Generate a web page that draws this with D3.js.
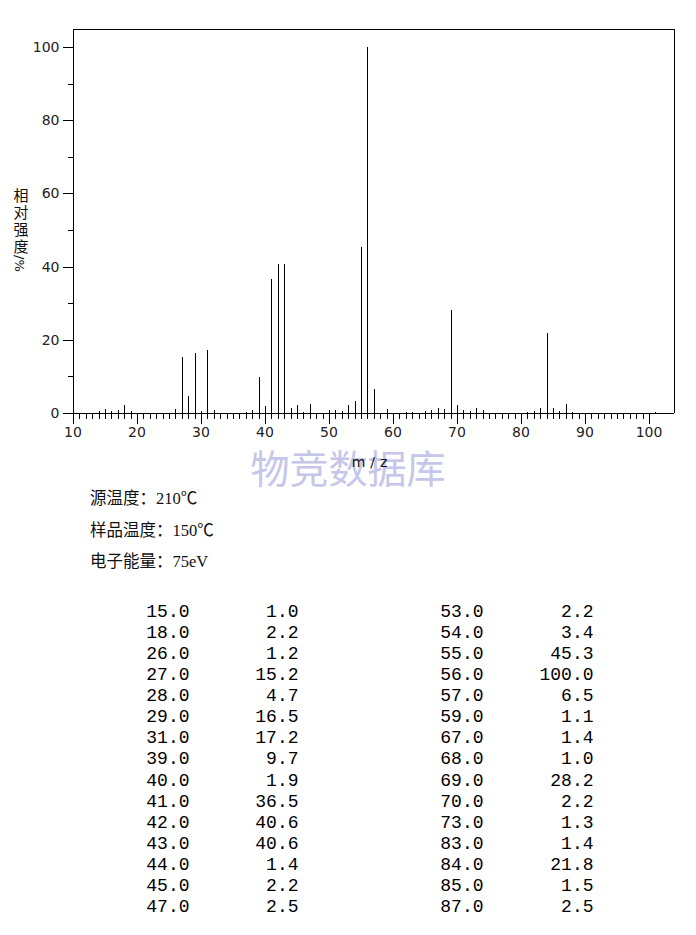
<!DOCTYPE html>
<html>
<head>
<meta charset="utf-8">
<script src="https://cdn.jsdelivr.net/npm/d3@7/dist/d3.min.js"></script>
<style>
  html, body { margin: 0; padding: 0; background: #fff; }
  svg { display: block; }
</style>
</head>
<body>
<svg id="chart" width="696" height="935"></svg>
<script>
// Peaks listed in the table (m/z, relative intensity %)
const tableMz = [15, 18, 26, 27, 28, 29, 31, 39, 40, 41, 42, 43, 44, 45, 47,
                 53, 54, 55, 56, 57, 59, 67, 68, 69, 70, 73, 83, 84, 85, 87];
const tableInt = [1.0, 2.2, 1.2, 15.2, 4.7, 16.5, 17.2, 9.7, 1.9, 36.5, 40.6, 40.6, 1.4, 2.2, 2.5,
                  2.2, 3.4, 45.3, 100.0, 6.5, 1.1, 1.4, 1.0, 28.2, 2.2, 1.3, 1.4, 21.8, 1.5, 2.5];
// Minor peaks visible in the plot but not in the table (estimated)
const minorMz = [14, 16, 17, 19, 30, 32, 37, 38, 46, 50, 51, 52, 62, 63, 65, 66, 71, 72, 74, 81, 82, 86, 88, 101];
const minorInt = [0.5, 0.5, 0.8, 0.6, 0.6, 0.9, 0.4, 0.7, 0.4, 0.7, 0.9, 0.5, 0.3, 0.3, 0.5, 0.7, 0.7, 0.6, 0.7, 0.4, 0.5, 0.5, 0.4, 0.3];
const xTickLabels = [10, 20, 30, 40, 50, 60, 70, 80, 90, 100];
const yTickLabels = [0, 20, 40, 60, 80, 100];
const infoLines = ["源温度：210℃", "样品温度：150℃", "电子能量：75eV"];
const yAxisTitle = ["相", "对", "强", "度"];
const yAxisTitleTail = "/%";
const watermark = "物竞数据库";
const xAxisTitle = "m/z";

(function () {
const peaks = tableMz.map((m, i) => ({ mz: m, v: tableInt[i] }))
  .concat(minorMz.map((m, i) => ({ mz: m, v: minorInt[i] })));

const svg = d3.select("#chart");
const pLeft = 73, pRight = 674, pTop = 29, pBottom = 413;

const x = d3.scaleLinear().domain([10, 103.9]).range([pLeft, pRight]);
const y = d3.scaleLinear().domain([0, 100]).range([pBottom, 47]);

// frame
svg.append("path")
  .attr("d", `M${pLeft},${pTop + 0.5}H${pRight + 0.5}V${pBottom}`)
  .attr("fill", "none").attr("stroke", "#000").attr("stroke-width", 1)
  .attr("shape-rendering", "crispEdges");

// peaks
svg.append("g").selectAll("line").data(peaks).join("line")
  .attr("x1", d => Math.round(x(d.mz)) + 0.5)
  .attr("x2", d => Math.round(x(d.mz)) + 0.5)
  .attr("y1", y(0))
  .attr("y2", d => y(d.v))
  .attr("stroke", "#000").attr("stroke-width", 1)
  .attr("shape-rendering", "crispEdges");

// x axis
const xMinor = d3.range(10, 101, 1);
const gx = svg.append("g").attr("transform", `translate(0,${pBottom})`);
gx.append("line").attr("x1", pLeft).attr("x2", pRight).attr("y1", 0.5).attr("y2", 0.5)
  .attr("stroke", "#000").attr("shape-rendering", "crispEdges");
gx.selectAll("line.t").data(xMinor).join("line").attr("class", "t")
  .attr("x1", d => Math.round(x(d)) + 0.5).attr("x2", d => Math.round(x(d)) + 0.5)
  .attr("y1", 0).attr("y2", d => d % 10 === 0 ? 11 : 6)
  .attr("stroke", "#000").attr("shape-rendering", "crispEdges");
gx.selectAll("text").data(xTickLabels).join("text")
  .attr("x", d => x(d)).attr("y", 24)
  .attr("text-anchor", "middle")
  .attr("font-family", "DejaVu Sans, sans-serif").attr("font-size", 14)
  .attr("fill", "#222")
  .text(d => d);

// y axis
const gy = svg.append("g");
gy.append("line").attr("x1", pLeft + 0.5).attr("x2", pLeft + 0.5).attr("y1", pTop).attr("y2", pBottom)
  .attr("stroke", "#000").attr("shape-rendering", "crispEdges");
gy.selectAll("line.t").data(d3.range(0, 101, 10)).join("line").attr("class", "t")
  .attr("x1", d => d % 20 === 0 ? pLeft - 10 : pLeft - 5).attr("x2", pLeft)
  .attr("y1", d => Math.round(y(d)) + 0.5).attr("y2", d => Math.round(y(d)) + 0.5)
  .attr("stroke", "#000").attr("shape-rendering", "crispEdges");
gy.selectAll("text").data(yTickLabels).join("text")
  .attr("x", 59.5).attr("y", d => y(d)).attr("dy", "0.36em")
  .attr("text-anchor", "end")
  .attr("font-family", "DejaVu Sans, sans-serif").attr("font-size", 14)
  .attr("fill", "#222")
  .text(d => d);

// y axis title (vertical)
const yt = svg.append("g").attr("font-family", "Noto Sans CJK SC, sans-serif")
  .attr("font-size", 15).attr("fill", "#111");
yt.selectAll("text").data(yAxisTitle).join("text")
  .attr("x", 21).attr("y", (d, i) => 201 + i * 17)
  .attr("text-anchor", "middle").text(d => d);
yt.append("text")
  .attr("transform", "translate(15,255) rotate(90)")
  .attr("font-family", "DejaVu Sans, sans-serif").attr("font-size", 13)
  .text(yAxisTitleTail);

// watermark
svg.append("text")
  .attr("x", 348).attr("y", 483).attr("text-anchor", "middle")
  .attr("font-family", "Noto Sans CJK SC, sans-serif").attr("font-size", 39)
  .attr("fill", "#c6c6ea")
  .text(watermark);

// x axis title
svg.append("text")
  .attr("x", 372).attr("y", 467).attr("text-anchor", "middle")
  .attr("font-family", "DejaVu Sans, sans-serif").attr("font-size", 14)
  .attr("letter-spacing", 5).attr("fill", "#111")
  .text(xAxisTitle);

// info lines
svg.append("g").selectAll("text").data(infoLines).join("text")
  .attr("x", 90).attr("y", (d, i) => 504 + i * 31.5)
  .attr("font-family", "Liberation Serif, Noto Sans CJK SC, serif").attr("font-size", 16.5)
  .attr("fill", "#111")
  .text(d => d);

// peak table
const colX = [189.5, 298.5, 483.5, 593.5];
const tg = svg.append("g").attr("font-family", "Liberation Mono, monospace")
  .attr("font-size", 18).attr("fill", "#000").attr("text-anchor", "end");
const rows = 15;
tableMz.forEach((m, i) => {
  const col = Math.floor(i / rows), r = i % rows;
  const yy = 617 + r * 21.07;
  tg.append("text").attr("x", colX[col * 2]).attr("y", yy).text(m.toFixed(1));
  tg.append("text").attr("x", colX[col * 2 + 1]).attr("y", yy).text(tableInt[i].toFixed(1));
});
})();
</script>
</body>
</html>
